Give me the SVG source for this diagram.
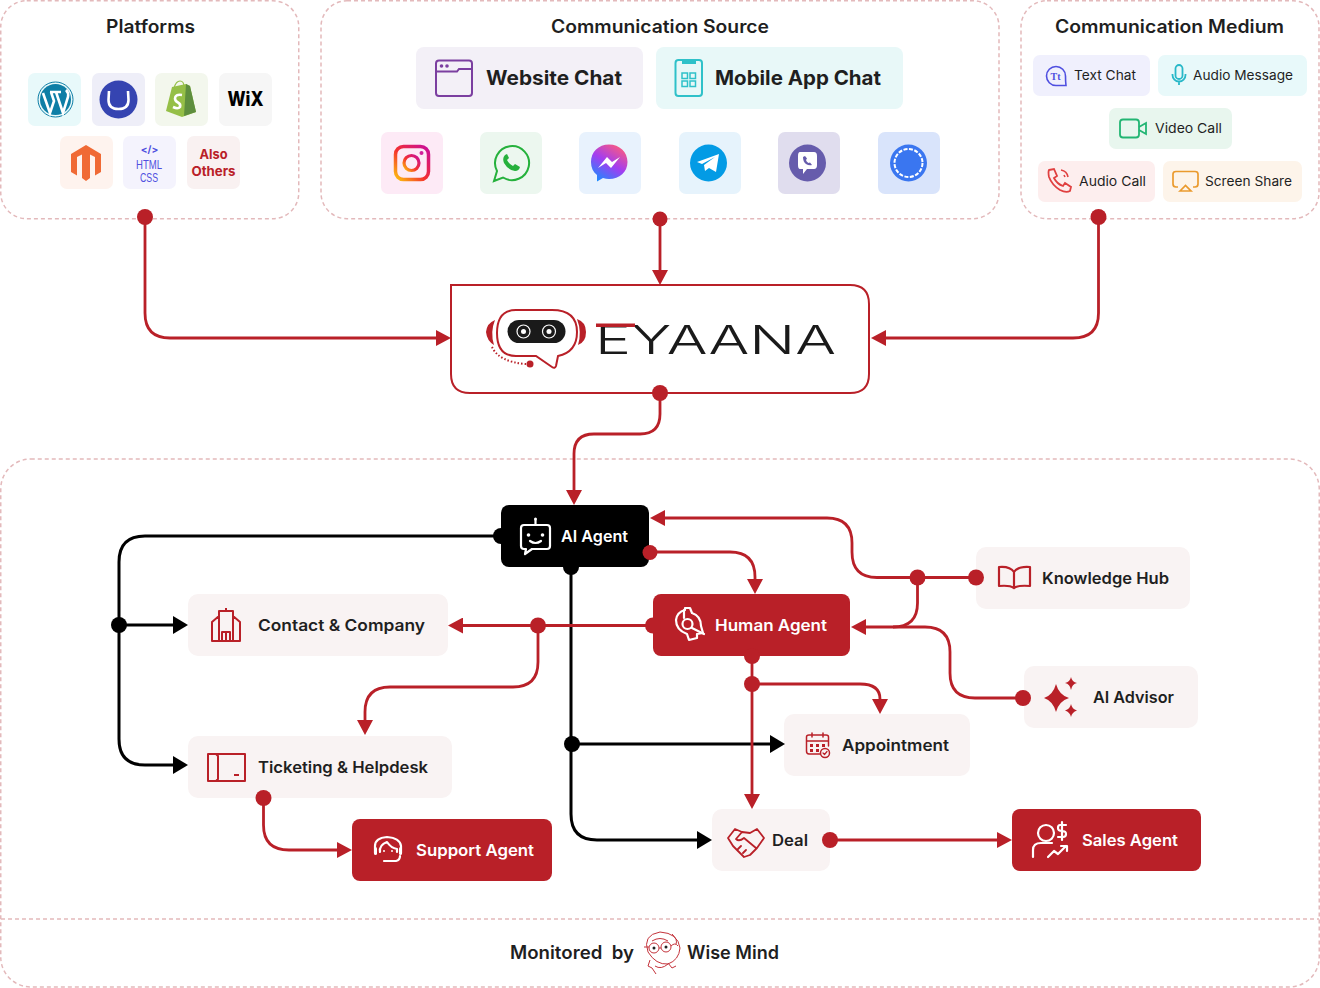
<svg xmlns="http://www.w3.org/2000/svg" width="1320" height="988" viewBox="0 0 1320 988">
<style>
text{font-family:"Inter","Liberation Sans",sans-serif;fill:#1f1f1f;font-weight:500;white-space:pre}
.h{font-size:18px;font-weight:600}.b{font-size:20px;font-weight:700}.s{font-size:13px;font-weight:400}
.n{font-size:16px;font-weight:600}.w{fill:#fff}
.panel{fill:#fff;stroke:#e3b9bb;stroke-width:1.5;stroke-dasharray:4 3}
.t{fill:#f9f3f3}.r{fill:#b92028}.k{fill:#000}
.ln{fill:none;stroke:#b92028;stroke-width:2.8}.lk{fill:none;stroke:#000;stroke-width:3}
.ic{fill:none;stroke:#b92028;stroke-width:2;stroke-linejoin:round;stroke-linecap:round}
.iw{fill:none;stroke:#fff;stroke-width:2.2;stroke-linejoin:round;stroke-linecap:round}
.ar{marker-end:url(#ar)}.ak{marker-end:url(#ak)}
</style>
<defs>
<marker id="ar" markerUnits="userSpaceOnUse" markerWidth="15" markerHeight="16" refX="0" refY="8" orient="auto"><path d="M0,0L15,8L0,16z" fill="#b92028"/></marker>
<marker id="ak" markerUnits="userSpaceOnUse" markerWidth="15" markerHeight="18" refX="0" refY="9" orient="auto"><path d="M0,0L15,9L0,18z" fill="#000"/></marker>
<linearGradient id="ig" x1="0" y1="1" x2="1" y2="0"><stop offset="0" stop-color="#fdc20f"/><stop offset=".45" stop-color="#f4312e"/><stop offset="1" stop-color="#c90d9c"/></linearGradient>
<linearGradient id="ms" x1="0.2" y1="1" x2="0.8" y2="0"><stop offset="0" stop-color="#1a8cff"/><stop offset=".5" stop-color="#a33df0"/><stop offset="1" stop-color="#ff5c7a"/></linearGradient>
</defs>

<g id="panels">
<rect class="panel" x="0.75" y="0.75" width="298" height="218" rx="26"/>
<rect class="panel" x="321" y="0.75" width="678" height="218" rx="26"/>
<rect class="panel" x="1021" y="0.75" width="298" height="218" rx="26"/>
<rect class="panel" x="0.75" y="459" width="1318.5" height="528" rx="30"/>
<path class="panel" d="M1,919H1319"/>
</g>

<g id="platforms">
<text class="h" x="106" y="33" textLength="89" lengthAdjust="spacingAndGlyphs">Platforms</text>
<g id="wordpress"><rect x="28" y="73" width="53" height="53" rx="7" fill="#e8f9fa"/><circle cx="55.5" cy="99.5" r="17.5" fill="none" stroke="#0e7ea6" stroke-width="1"/><circle cx="55.5" cy="99.5" r="15.5" fill="#0e7ea6"/><path d="M43,93L50,113L54,101L51,92M50,92H61M56,92L63,113L68,97Q69,93 66,90" fill="none" stroke="#fff" stroke-width="2.6"/></g>
<g id="umbraco"><rect x="92" y="73" width="53" height="53" rx="7" fill="#eeeef8"/><circle cx="118.5" cy="99.5" r="19" fill="#3544b1"/><path d="M109,91L108.5,100Q108.5,109 118.5,109Q128.5,109 128.5,100L128,91" fill="none" stroke="#fff" stroke-width="2.6"/></g>
<g id="shopify"><rect x="155" y="73" width="53" height="53" rx="7" fill="#f3f7ed"/><path d="M166,111L172,87L186,84L190,86L196,112L182,117z" fill="#95bf47"/><path d="M186,84L190,86L196,112L184,116z" fill="#5e8e3e"/><path d="M174,88Q176,81 180,81Q184,81 184,87" fill="none" stroke="#95bf47" stroke-width="1.2"/><path d="M182,95Q175,94 175,98.5Q175,101 178,102.5Q181,104 180,107Q178,109.5 173,107" fill="none" stroke="#fff" stroke-width="2.6"/></g>
<g id="wix"><rect x="219" y="73" width="53" height="53" rx="7" fill="#f6f6f6"/><text x="227.500" y="106" font-size="20" style="font-weight:800;fill:#000" textLength="36" lengthAdjust="spacingAndGlyphs">WiX</text></g>
<g id="magento"><rect x="60" y="136" width="53" height="53" rx="7" fill="#fef3ee"/><path d="M86,145L101,154V172L95,175.500V157L90,154.500V178L86,181L82,178V154.500L77,157V175.500L71,172V154z" fill="#f06a35"/></g>
<g id="html"><rect x="123" y="136" width="53" height="53" rx="7" fill="#f4f3fd"/><text x="149.500" y="153" font-size="10" text-anchor="middle" style="fill:#4f4fe0;font-weight:700">&lt;/&gt;</text><text x="136" y="169" font-size="12" style="fill:#4f4fe0;font-family:'Liberation Sans',sans-serif;font-weight:400" textLength="26" lengthAdjust="spacingAndGlyphs">HTML</text><text x="140" y="182" font-size="12" style="fill:#4f4fe0;font-family:'Liberation Sans',sans-serif;font-weight:400" textLength="18" lengthAdjust="spacingAndGlyphs">CSS</text></g>
<g id="also-others"><rect x="187" y="136" width="53" height="53" rx="7" fill="#f9f1f1"/><text x="199.500" y="159" font-size="13" style="fill:#b92028;font-weight:700" textLength="28" lengthAdjust="spacingAndGlyphs">Also</text><text x="191.500" y="176" font-size="13" style="fill:#b92028;font-weight:700" textLength="44" lengthAdjust="spacingAndGlyphs">Others</text></g>
</g>

<g id="communication-source">
<text class="h" x="551" y="33" textLength="218" lengthAdjust="spacingAndGlyphs">Communication Source</text>
<g id="website-chat"><rect x="416" y="47" width="227" height="62" rx="8" fill="#f3f0f7"/><rect x="436" y="60.500" width="36" height="35.500" rx="3" fill="none" stroke="#7b3fa0" stroke-width="2"/><path d="M436,71.500H457L459,69H472" fill="none" stroke="#7b3fa0" stroke-width="2"/><circle cx="441.500" cy="66" r="1.800" fill="#7b3fa0"/><circle cx="447" cy="66" r="1.800" fill="#7b3fa0"/><text class="b" x="486" y="85" textLength="136" lengthAdjust="spacingAndGlyphs">Website Chat</text></g>
<g id="mobile-app-chat"><rect x="656" y="47" width="247" height="62" rx="8" fill="#e8f8f8"/><rect x="675.500" y="60" width="26.500" height="36" rx="3" fill="none" stroke="#2fc1c9" stroke-width="2"/><rect x="682" y="60" width="14" height="4" fill="#2fc1c9"/><g fill="none" stroke="#2fc1c9" stroke-width="1.500"><rect x="682" y="73" width="5.500" height="5.500"/><rect x="690" y="73" width="5.500" height="5.500"/><rect x="682" y="81" width="5.500" height="5.500"/><rect x="690" y="81" width="5.500" height="5.500"/></g><text class="b" x="715" y="85" textLength="166" lengthAdjust="spacingAndGlyphs">Mobile App Chat</text></g>
<g id="instagram"><rect x="381" y="132" width="62" height="62" rx="7" fill="#fdeaf6"/><rect x="395.500" y="146.500" width="33" height="33" rx="8" fill="none" stroke="url(#ig)" stroke-width="3.500"/><circle cx="411.500" cy="163" r="7.500" fill="none" stroke="url(#ig)" stroke-width="3.200"/><circle cx="421.500" cy="153" r="2" fill="#d0209a"/></g>
<g id="whatsapp"><rect x="480" y="132" width="62" height="62" rx="7" fill="#ecf7ef"/><path d="M494,181L497,171A17,17 0 1 1 503,177.500z" fill="none" stroke="#25b13c" stroke-width="2"/><path d="M505,155Q502,158 504,163Q508,170 515,171Q519,171 520,167L515,164L513,166Q509,164 507,160L509,158L507,154z" fill="#25b13c"/></g>
<g id="messenger"><rect x="579" y="132" width="62" height="62" rx="7" fill="#e8f2fd"/><path d="M609,144.500C598.500,144.500 591,152 591,162C591,167.500 593,172 597,175V181.500L603,178C605,178.500 607,179 609,179C619.500,179 627.500,172 627.500,162C627.500,152 619.500,144.500 609,144.500z" fill="url(#ms)"/><path d="M598,168L607,157L612,162L620,157L611,168L606,163z" fill="#fff"/></g>
<g id="telegram"><rect x="679" y="132" width="62" height="62" rx="7" fill="#e6f3fc"/><circle cx="708.500" cy="163" r="18.500" fill="#039be5"/><path d="M697,162L719,154L716,172L709,168L705,171L704,165L715,157L702,164z" fill="#fff"/></g>
<g id="viber"><rect x="778" y="132" width="62" height="62" rx="7" fill="#e0ddee"/><circle cx="807.500" cy="163" r="18.500" fill="#665cac"/><path d="M800,152H814Q817,152 817,156V165Q817,169 814,169H807L803,174V169H800Q798,169 798,165V156Q798,152 800,152z" fill="#fff"/><path d="M803,157Q803,162 806,164Q809,166 812,165L810,162.500L808.500,163Q806.500,162 806,160L807,158.500L805,156z" fill="#665cac"/></g>
<g id="signal"><rect x="878" y="132" width="62" height="62" rx="7" fill="#d9e4fb"/><circle cx="908.500" cy="163" r="18.500" fill="#3a76f0"/><circle cx="908.500" cy="163" r="14" fill="none" stroke="#fff" stroke-width="2" stroke-dasharray="4 1.500"/></g>
</g>

<g id="communication-medium">
<text class="h" x="1055" y="33" textLength="229" lengthAdjust="spacingAndGlyphs">Communication Medium</text>
<g id="text-chat"><rect x="1033" y="55" width="117" height="41" rx="7" fill="#f0f0fd"/><path d="M1066,85.500H1056A9.500,9.500 0 1 1 1065.500,76Q1065.500,82 1066,85.500z" fill="none" stroke="#4f4fe0" stroke-width="1.600"/><text x="1050.500" y="80" font-size="10" style="fill:#4f4fe0;font-weight:700;font-family:'Liberation Serif',serif">Tt</text><text class="s" x="1074" y="80" textLength="62" lengthAdjust="spacingAndGlyphs">Text Chat</text></g>
<g id="audio-message"><rect x="1158" y="55" width="149" height="41" rx="7" fill="#e8f9fa"/><rect x="1175.500" y="65" width="7" height="14" rx="3.500" fill="none" stroke="#28b8c8" stroke-width="1.800"/><path d="M1172.500,74V75A6.500,6.500 0 0 0 1185.500,75V74M1179,82V85" fill="none" stroke="#28b8c8" stroke-width="1.800"/><text class="s" x="1193" y="80" textLength="100" lengthAdjust="spacingAndGlyphs">Audio Message</text></g>
<g id="video-call"><rect x="1109" y="108" width="123" height="41" rx="7" fill="#e8f6ee"/><rect x="1120" y="119.500" width="19" height="18" rx="3" fill="none" stroke="#22b573" stroke-width="1.800"/><path d="M1139,127L1146,123V134L1139,130" fill="none" stroke="#22b573" stroke-width="1.800"/><text class="s" x="1155" y="133" textLength="67" lengthAdjust="spacingAndGlyphs">Video Call</text></g>
<g id="audio-call"><rect x="1038" y="161" width="117" height="41" rx="7" fill="#fdeeee"/><path d="M1049,170L1054,169L1057,176L1054,178Q1057,184 1063,186L1065,183L1071,187L1070,191Q1066,193 1060,190Q1052,185 1049,177Q1048,172 1049,170z" fill="none" stroke="#e04040" stroke-width="1.800"/><path d="M1061,170Q1067,171 1068,177M1064,175L1065,177" fill="none" stroke="#e04040" stroke-width="1.600"/><text class="s" x="1079" y="186" textLength="67" lengthAdjust="spacingAndGlyphs">Audio Call</text></g>
<g id="screen-share"><rect x="1163" y="161" width="139" height="41" rx="7" fill="#fdf4ea"/><path d="M1178,187H1176Q1173,187 1173,184V174Q1173,171.500 1176,171.500H1195Q1198,171.500 1198,174V184Q1198,187 1195,187H1193" fill="none" stroke="#ea9a2e" stroke-width="1.700"/><path d="M1180,191L1185.500,185.500L1191,191z" fill="none" stroke="#ea9a2e" stroke-width="1.700"/><text class="s" x="1205" y="186" textLength="87" lengthAdjust="spacingAndGlyphs">Screen Share</text></g>
</g>

<g id="eyaana">
<path d="M451,285H850Q869,285 869,304V374Q869,393 850,393H470Q451,393 451,374z" fill="#fff" stroke="#b92028" stroke-width="2"/>
<path d="M516,310H552Q577,310 577,332Q577,352 558,356L556,366Q555,369 552,367L536,356H516Q497,356 497,333Q497,310 516,310z" fill="none" stroke="#b92028" stroke-width="2"/>
<rect x="507.500" y="320" width="58" height="23" rx="11.500" fill="#1a1a1a"/>
<circle cx="523.500" cy="331.500" r="6.500" fill="none" stroke="#fff" stroke-width="1.200"/><circle cx="523.500" cy="331.500" r="2.500" fill="#fff"/>
<circle cx="549" cy="331.500" r="6.500" fill="none" stroke="#fff" stroke-width="1.200"/><circle cx="549" cy="331.500" r="2.500" fill="#fff"/>
<path d="M495,320Q487,323 486,332Q487,341 494,345Q490,332 495,320z" fill="#b92028"/>
<path d="M577,319Q586,322 586,332Q586,342 578,345Q582,332 577,319z" fill="#b92028"/>
<path d="M492,347Q499,362 526,364" fill="none" stroke="#b92028" stroke-width="2" stroke-dasharray="1.500 2"/>
<circle cx="530" cy="364" r="3.500" fill="#b92028"/>
<text x="595" y="354" font-size="40" style="font-weight:300;fill:#1a1a1a" textLength="241" lengthAdjust="spacingAndGlyphs">EYAANA</text>
<rect x="596" y="323.500" width="39" height="3.500" fill="#b92028"/>
</g>

<g id="ai-agent"><rect x="501" y="505" width="148" height="62" rx="8" class="k"/>
<path class="iw" d="M524,525H547Q550,525 550,528V546Q550,549 547,549H532L525,554L526,549H524Q521,549 521,546V528Q521,525 524,525zM535.500,525V520"/><circle cx="535.500" cy="519" r="1.500" fill="#fff"/><circle cx="528.500" cy="535" r="1.800" fill="#fff"/><circle cx="542.500" cy="535" r="1.800" fill="#fff"/><path class="iw" d="M530,541Q535.500,545 541,541"/>
<text class="n w" x="561" y="542" textLength="67" lengthAdjust="spacingAndGlyphs">AI Agent</text></g>

<g id="human-agent"><rect x="653" y="594" width="197" height="62" rx="8" class="r"/>
<path class="iw" d="M685,608H690L692,613Q701,616 701,626L703,633L697,634V638L689,640L687,634Q676,630 676,620Q677,612 685,610z"/><circle cx="687.500" cy="624" r="5" fill="none" stroke="#fff" stroke-width="2.200"/><path class="iw" d="M692,628L704,634M684,610V618"/>
<text class="n w" x="715" y="631" textLength="112" lengthAdjust="spacingAndGlyphs">Human Agent</text></g>

<g id="contact-company"><rect x="188" y="594" width="260" height="62" rx="10" class="t"/>
<path class="ic" style="stroke-linecap:butt" d="M212,641V622L219,616V611H233V616L240,622V641zM212,641H240M219,616V641M233,616V641M222,641V632H230V641M226,632V641M226,610V608"/>
<text class="n" x="258" y="631" textLength="167" lengthAdjust="spacingAndGlyphs">Contact &amp; Company</text></g>

<g id="ticketing-helpdesk"><rect x="188" y="736" width="264" height="62" rx="10" class="t"/>
<path class="ic" style="stroke-linecap:butt" d="M208,754H245V781H208zM216,754L218,756V779L216,781M234,775H239"/>
<text class="n" x="258" y="773" textLength="170" lengthAdjust="spacingAndGlyphs">Ticketing &amp; Helpdesk</text></g>

<g id="support-agent"><rect x="352" y="819" width="200" height="62" rx="8" class="r"/>
<path class="iw" d="M375,853V846Q375,838 387,837Q400,838 401,846V853M380,852Q379,845 387,842Q391,848 397,849V852M384,861H396Q400,860 400,856"/><circle cx="384" cy="851" r="1" fill="#fff"/><circle cx="392" cy="851" r="1" fill="#fff"/><rect x="374" y="847" width="3" height="8" rx="1.500" fill="#fff"/><rect x="399" y="847" width="3" height="8" rx="1.500" fill="#fff"/>
<text class="n w" x="416" y="856" textLength="118" lengthAdjust="spacingAndGlyphs">Support Agent</text></g>

<g id="appointment"><rect x="784" y="714" width="186" height="62" rx="10" class="t"/>
<path class="ic" style="stroke-width:1.500" d="M822,754H809Q806.500,754 806.500,751V737Q806.500,735 809,735H826Q828.500,735 828.500,737V746M806.500,741H828.500M812,733V737M823,733V737"/><g class="r"><rect x="810" y="744" width="3" height="3"/><rect x="816" y="744" width="3" height="3"/><rect x="822" y="744" width="3" height="3"/><rect x="810" y="749" width="3" height="3"/><rect x="816" y="749" width="3" height="3"/></g><circle cx="825" cy="753" r="4.500" fill="#f9f3f3" stroke="#b92028" stroke-width="1.500"/><path class="ic" style="stroke-width:1.200" d="M823,753L824.500,754.500L827,751.500"/>
<text class="n" x="842" y="751" textLength="107" lengthAdjust="spacingAndGlyphs">Appointment</text></g>

<g id="deal"><rect x="712" y="809" width="118" height="62" rx="10" class="t"/>
<path class="ic" style="stroke-width:1.800" d="M735,829L728,838L733,846L744,857L750,855L757,848L764,838L757,829L750,833L742,832zM742,832L736,839Q739,842 744,838L756,848M738,849L741,846M743,853L746,850"/>
<text class="n" x="772" y="846" textLength="36" lengthAdjust="spacingAndGlyphs">Deal</text></g>

<g id="sales-agent"><rect x="1012" y="809" width="189" height="62" rx="8" class="r"/>
<circle cx="1046" cy="833" r="8" class="iw"/><path class="iw" d="M1033,857V850Q1033,843 1041,843H1052M1048,857L1054,851L1058,854L1066,846M1061,846H1067V851M1066,825H1060Q1058,825 1058,828Q1058,831 1062,831Q1066,831 1066,834Q1066,837 1063,837H1058M1062,822V840"/>
<text class="n w" x="1082" y="846" textLength="96" lengthAdjust="spacingAndGlyphs">Sales Agent</text></g>

<g id="knowledge-hub"><rect x="976" y="547" width="214" height="62" rx="10" class="t"/>
<path class="ic" style="stroke-width:2.200;stroke-linecap:butt" d="M1014,572Q1010,566 999,567V586Q1010,585 1014,588Q1018,585 1030,586V567Q1018,566 1014,572zM1014,572V588"/>
<text class="n" x="1042" y="584" textLength="127" lengthAdjust="spacingAndGlyphs">Knowledge Hub</text></g>

<g id="ai-advisor"><rect x="1024" y="666" width="174" height="62" rx="10" class="t"/>
<path class="r" d="M1056,684Q1059,695 1069,698Q1059,701 1056,712Q1053,701 1044,698Q1053,695 1056,684z"/>
<path class="r" d="M1071,677Q1072,682 1077,683Q1072,684 1071,690Q1070,684 1065,683Q1070,682 1071,677z"/>
<path class="r" d="M1071,704Q1072,709 1077,710.500Q1072,712 1071,717Q1070,712 1065,710.500Q1070,709 1071,704z"/>
<text class="n" x="1093" y="703" textLength="81" lengthAdjust="spacingAndGlyphs">AI Advisor</text></g>

<g id="wise-mind">
<text class="h" x="510" y="959" xml:space="preserve" textLength="124" lengthAdjust="spacingAndGlyphs">Monitored  by</text>
<g fill="none" stroke="#c4333b" stroke-width="1"><path d="M648,952Q642,935 660,932Q678,933 680,948Q679,960 668,964Q656,965 648,952z"/><circle cx="654" cy="948" r="5"/><circle cx="666" cy="947" r="5"/><path d="M659,948H661M644,947H649M671,946Q675,942 678,946M652,941Q660,936 668,941M650,960L648,966L652,968L656,974M668,963L672,968L676,966M655,966Q661,970 668,964M672,934Q678,940 676,944"/></g><circle cx="654" cy="948" r="1.500" fill="#222"/><circle cx="666" cy="947" r="1.500" fill="#222"/>
<text class="h" x="687" y="959" textLength="92" lengthAdjust="spacingAndGlyphs">Wise Mind</text>
</g>

<g id="connectors">
<path class="lk" d="M501,536H145Q119,536 119,562V739Q119,765 145,765H173" marker-end="url(#ak)"/>
<path class="lk" d="M119,625H173" marker-end="url(#ak)"/>
<path class="lk" d="M571,567V814Q571,840 597,840H697" marker-end="url(#ak)"/>
<path class="lk" d="M572,744H770" marker-end="url(#ak)"/>
<circle cx="501" cy="536" r="8" class="k"/><circle cx="571" cy="567" r="8" class="k"/><circle cx="119" cy="625" r="8" class="k"/><circle cx="572" cy="744" r="8" class="k"/>
<g>
<path class="ln ar" d="M145,217V313Q145,338 170,338H436"/>
<path class="ln ar" d="M660,219V270"/>
<path class="ln ar" d="M1098.500,217V313Q1098.500,338 1073,338H886"/>
<path class="ln ar" d="M660,393V414Q660,434 640,434H594Q574,434 574,454V490"/>
<path class="ln ar" d="M650,552H730Q755,552 755,577V579"/>
<path class="ln ar" d="M653,625.500H463"/>
<path class="ln ar" d="M538,625V662Q538,687 513,687H390Q365,687 365,712V720"/>
<path class="ln ar" d="M263.500,798V825Q263.500,850 289,850H337"/>
<path class="ln ar" d="M752,656V794"/>
<path class="ln ar" d="M752,684H860Q880,684 880,699"/>
<path class="ln ar" d="M830,840H997"/>
<path class="ln ar" d="M976,577.500H877Q852,577.500 852,552V543Q852,518 827,518H665"/>
<path class="ln" d="M917.500,577.500V603Q917.500,627 893,627"/>
<path class="ln ar" d="M1023,698H975Q950,698 950,673V652Q950,627 925,627H866"/>
<g class="r">
<circle cx="145" cy="217" r="8"/><circle cx="660" cy="219" r="7.500"/><circle cx="1098.500" cy="217" r="8"/><circle cx="660" cy="393" r="8"/>
<circle cx="650" cy="552.500" r="7.500"/><circle cx="653" cy="625.500" r="8"/><circle cx="538" cy="625.500" r="8"/><circle cx="263.500" cy="798" r="8"/>
<circle cx="752" cy="656" r="8"/><circle cx="752" cy="684" r="8"/><circle cx="830" cy="840" r="8"/><circle cx="976" cy="577.500" r="8"/><circle cx="917.500" cy="577.500" r="8"/><circle cx="1023" cy="698" r="8"/>
</g>
</g>
</g>
</svg>
